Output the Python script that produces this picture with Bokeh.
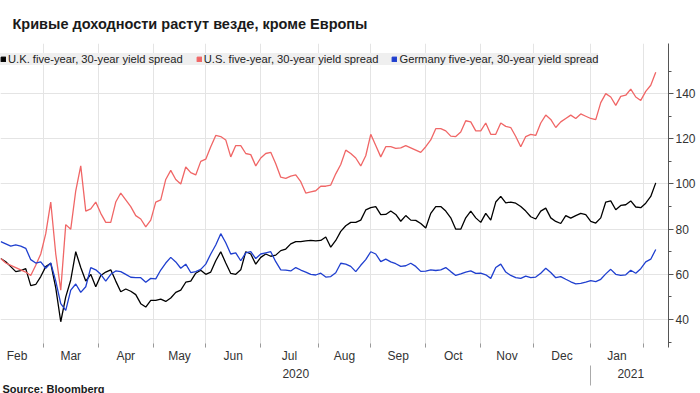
import numpy as np
from bokeh.plotting import figure
from bokeh.models import Range1d, FixedTicker, LinearAxis, Legend, LegendItem, Title
from bokeh.embed import file_html
from bokeh.resources import INLINE

# ---------------- data ----------------
start_date = "2020-02-06"      # first business day shown
sample_step = 2                # business days between samples

title_text = "Кривые доходности растут везде, кроме Европы"
source_text = "Source: Bloomberg"

series_names = ["U.K. five-year, 30-year yield spread",
                "U.S. five-year, 30-year yield spread",
                "Germany five-year, 30-year yield spread"]

month_names = ["Feb", "Mar", "Apr", "May", "Jun", "Jul", "Aug", "Sep", "Oct", "Nov", "Dec", "Jan"]
month_starts = ["2020-02-01", "2020-03-01", "2020-04-01", "2020-05-01", "2020-06-01", "2020-07-01",
                "2020-08-01", "2020-09-01", "2020-10-01", "2020-11-01", "2020-12-01", "2021-01-01",
                "2021-02-01"]
year_labels = ["2020", "2021"]
y_ticks = [40, 60, 80, 100, 120, 140]
y_minor = [30, 50, 70, 90, 110, 130, 150]

uk = [67, 65.6, 63.4, 61.2, 61.6, 62.5, 55, 55.5, 59, 63.4, 64.9, 54, 39, 50, 57.5, 70, 63, 57, 60, 54.5,
      59.5, 61, 62, 57, 52.3, 53.5, 52.5, 51, 47, 45.5, 48.5, 48.5, 49, 48, 49.5, 52, 53, 56.5, 57, 60.5,
      61.8, 60, 61, 66, 70, 65, 60.4, 60, 62, 70, 69, 64.5, 67.5, 69, 68, 68.5, 70.5, 71.2, 73.5, 74.5,
      74.5, 74.8, 75, 74.8, 75, 76.5, 72, 75, 79, 81.5, 83, 83, 84, 88.5, 89.5, 90, 86.4, 86.5, 88, 86.5,
      83.5, 86, 84, 83.9, 82.5, 80.5, 87, 90, 90, 88, 85, 80, 80, 85, 88, 85, 83, 87, 84, 92,
      94.5, 91.6, 92, 91.5, 90, 88, 85.5, 84.5, 88, 89.3, 85, 83.4, 82.5, 86, 84.9, 86, 87, 86.4, 83.4, 82.7,
      85, 92, 92.5, 88.6, 90.5, 90.8, 92.5, 89.8, 89.5, 91.5, 94.5, 100.5]

us = [67, 65, 64, 63, 62, 61, 59.5, 64, 69, 78, 92, 69, 53, 82, 80, 97, 108, 88, 89, 92,
      87, 83, 83, 92, 96, 93, 90, 86, 84.5, 81, 84, 92, 93, 102, 106, 102, 100, 107.5, 105, 104,
      110, 111, 116.5, 121.5, 121, 119.5, 112, 117, 117, 113.5, 113, 108, 111.5, 113.5, 114, 109, 103, 102.5, 103.5, 104,
      101, 96, 96.5, 97, 99, 99, 99.5, 104.5, 108.6, 115, 113.5, 111.5, 108, 112.5, 122, 117, 112, 116.5, 116.5, 115.8,
      116, 117, 116, 115, 114, 116.5, 119.5, 124.5, 124.5, 123.5, 121.2, 121, 123, 128, 127.5, 123.5, 123.5, 127, 122, 122,
      127, 125.5, 125, 121, 116.5, 121, 122, 121.5, 127, 130.5, 128.6, 125, 127.5, 129, 130.5, 129, 131, 130, 129, 128.5,
      136, 140, 138.5, 134.8, 138.8, 139.3, 142, 138.5, 137, 141, 143.7, 149.5]

de = [74.5, 73.5, 72.5, 73, 72.5, 71.5, 66.5, 65, 65.5, 62.7, 65, 57, 47, 44, 53, 55.7, 52, 54.5, 63, 62,
      60, 57, 60, 61.5, 61.2, 60, 58.7, 58.5, 58.5, 56.5, 58.2, 58, 61.9, 65, 67.5, 65.5, 62.7, 64.5, 60.8, 61.2,
      62.2, 64.5, 69, 73, 78, 74, 69, 69.5, 66, 69.5, 70, 67, 69, 69.5, 70, 65.6, 62, 61.9, 61.5, 63,
      61.9, 61, 60, 59.7, 60.5, 58.8, 59, 60.7, 64.9, 64.5, 63.5, 61.2, 64, 66.5, 70, 69, 65.6, 66.7, 65.5, 64.7,
      63.5, 63.8, 64.9, 63.5, 61.3, 61.4, 62, 61.7, 62, 63, 61.2, 59.5, 60.2, 61, 61.5, 60.4, 60.5, 59.8, 58.2, 63,
      64.5, 61, 59.5, 58.5, 58.2, 59.2, 58.5, 58.8, 60.5, 62.7, 60.8, 58.5, 59, 57.8, 56.7, 55.8, 56, 56.5, 57.2, 56.8,
      57.8, 60.2, 62.2, 60, 59.5, 59.8, 61.8, 60.5, 62.5, 65.5, 66.7, 71]

colors = ["#000000", "#f06666", "#1f3fcf"]

# ---------------- derived positions (business-day index) ----------------
x = [i * sample_step for i in range(len(uk))]
bounds = [float(np.busday_count(start_date, m)) for m in month_starts]
mids = [(bounds[i] + bounds[i + 1]) / 2 for i in range(len(month_names))]
x_start, x_end = -0.1, 267.1
jan_idx = bounds[11]
year_pos = [round((x_start + jan_idx) / 2), round((jan_idx + x_end) / 2)]

FONT = "Liberation Sans"
FRAME_H = 304

p = figure(frame_width=668, frame_height=FRAME_H,
           x_range=Range1d(x_start, x_end), y_range=Range1d(27.6, 162.2),
           y_axis_location="right", output_backend="svg", toolbar_location=None,
           min_border_left=0, min_border_right=0, min_border_top=43, min_border_bottom=0,
           outline_line_color=None, background_fill_color="white", border_fill_color="white")

p.add_layout(Title(text=title_text, text_font=FONT, text_font_size="14.5px", text_font_style="bold",
                   text_color="#1a1a1a", align="left", offset=12, standoff=23), "above")

# lines
for vals, c in zip([uk, us, de], colors):
    p.line(x, vals, line_color=c, line_width=1.3)

# legend with filled square swatches (renderers hold no visible data)
items = []
for name, c in zip(series_names, colors):
    r = p.quad(left=[np.nan], right=[np.nan], bottom=[np.nan], top=[np.nan],
               fill_color=c, line_color=c)
    items.append(LegendItem(label=name, renderers=[r]))
legend = Legend(items=items, orientation="horizontal", location=(0, FRAME_H - 22),
                background_fill_color="#efefef", background_fill_alpha=1.0, border_line_color=None,
                label_text_font=FONT, label_text_font_size="11.2px", label_text_color="#222222",
                glyph_width=6, glyph_height=6, label_standoff=2, spacing=13, padding=7,
                label_height=8, margin=0)
p.add_layout(legend, "center")

# grids
p.xgrid.ticker = FixedTicker(ticks=bounds)
p.xgrid.grid_line_color = "#e4e4e4"
p.ygrid.ticker = FixedTicker(ticks=y_ticks)
p.ygrid.grid_line_color = "#e4e4e4"

# x axis: month names centred in each month
xa = p.xaxis[0]
xa.ticker = FixedTicker(ticks=mids, minor_ticks=bounds)
xa.major_label_overrides = {m: n for m, n in zip(mids, month_names)}
xa.axis_line_color = None
xa.major_tick_line_color = None
xa.major_tick_out = 0
xa.major_tick_in = 0
xa.minor_tick_in = 4
xa.minor_tick_out = 0
xa.minor_tick_line_color = "#999999"
xa.major_label_standoff = 1
xa.major_label_text_font = FONT
xa.major_label_text_font_size = "12px"
xa.major_label_text_color = "#333333"

# year row with a separator at the start of 2021
ya2 = LinearAxis(ticker=FixedTicker(ticks=year_pos, minor_ticks=[jan_idx]),
                 major_label_overrides={year_pos[0]: year_labels[0], year_pos[1]: year_labels[1]},
                 axis_line_color=None, major_tick_line_color=None, major_tick_out=0, major_tick_in=0,
                 minor_tick_out=20, minor_tick_in=0, minor_tick_line_color="#aaaaaa",
                 major_label_standoff=-17, major_label_text_font=FONT, major_label_text_font_size="12px",
                 major_label_text_color="#333333")
p.add_layout(ya2, "below")

# y axis on the right
yax = p.yaxis[0]
yax.ticker = FixedTicker(ticks=y_ticks, minor_ticks=y_minor)
yax.axis_line_color = "#555555"
yax.major_tick_line_color = "#555555"
yax.minor_tick_line_color = "#555555"
yax.major_tick_out = 5
yax.major_tick_in = 0
yax.minor_tick_out = 3
yax.minor_tick_in = 0
yax.major_label_standoff = 2
yax.major_label_text_font = FONT
yax.major_label_text_font_size = "12px"
yax.major_label_text_color = "#333333"

p.add_layout(Title(text=source_text, text_font=FONT, text_font_size="11px", text_font_style="bold",
                   text_color="#1a1a1a", align="left", offset=2, standoff=0), "below")

open("out.html", "w").write(file_html(p, INLINE))
